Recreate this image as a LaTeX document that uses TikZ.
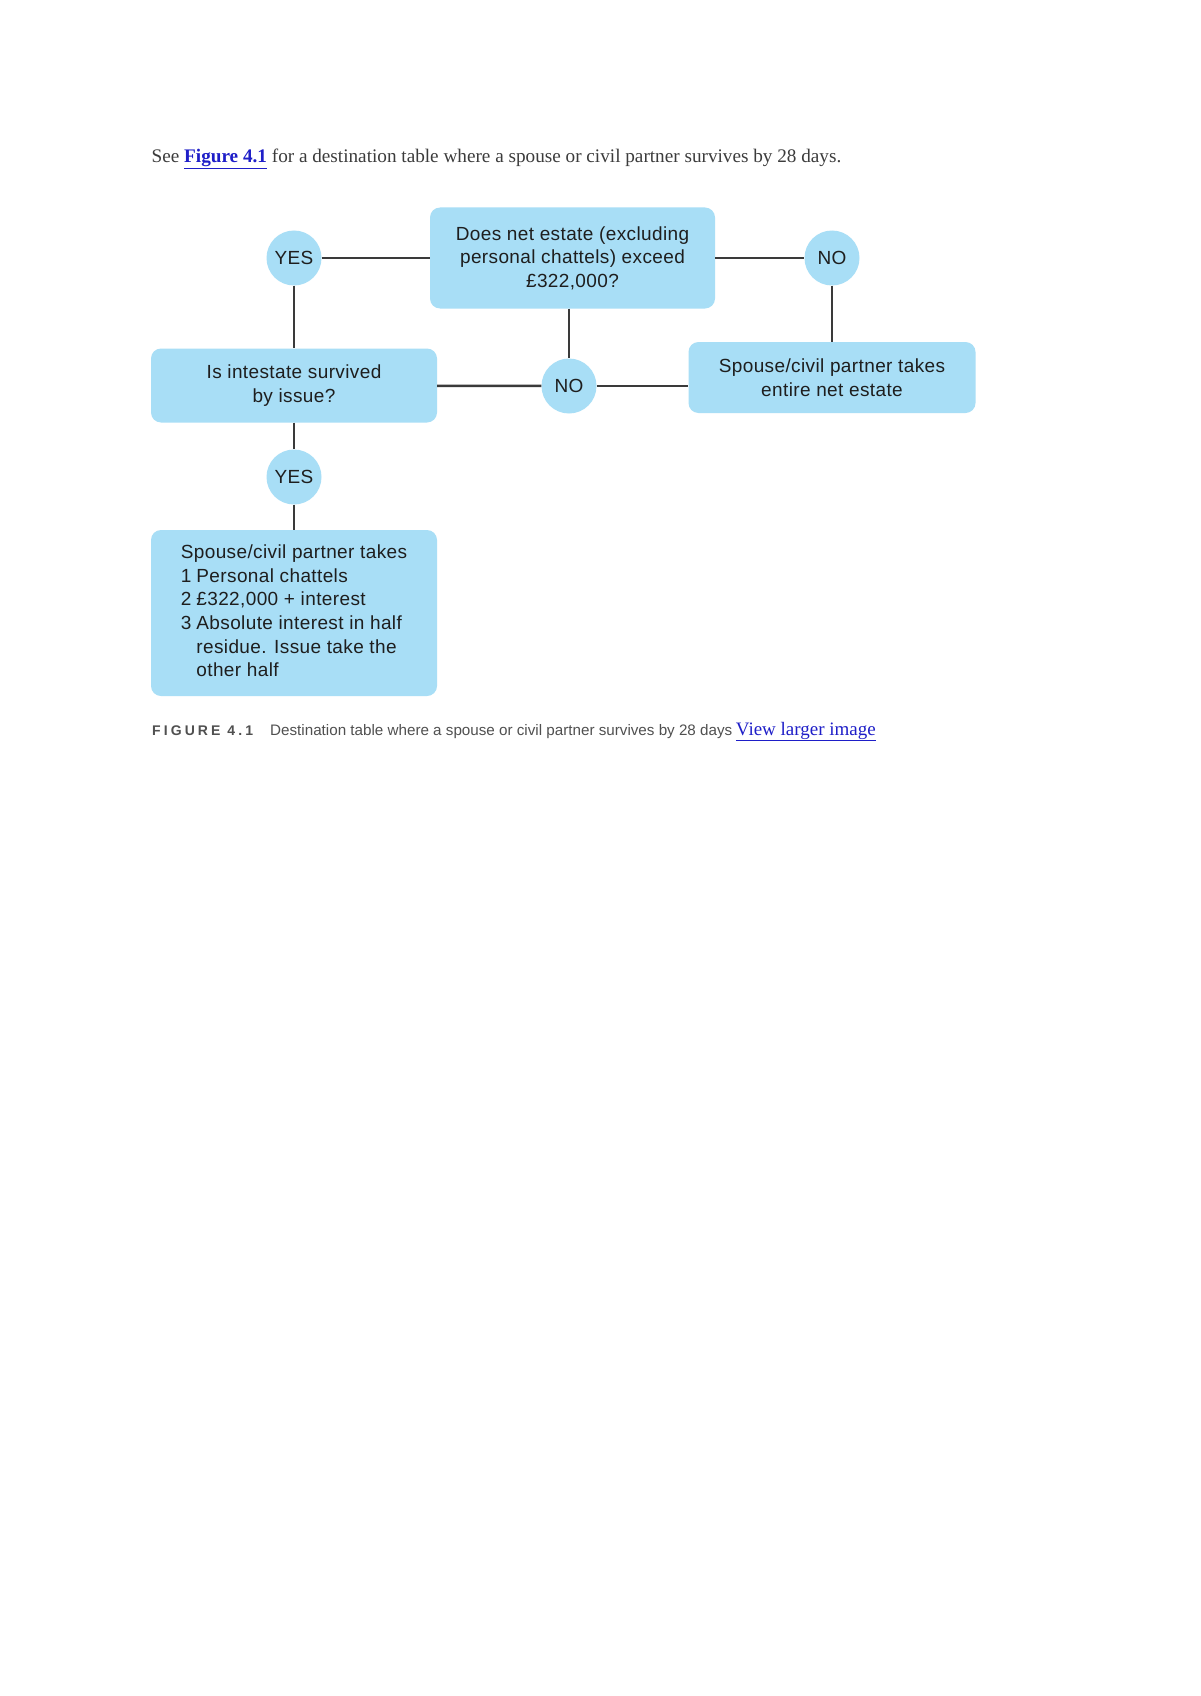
\documentclass[tikz,border=0pt]{standalone}
\usepackage{fontspec}
\setmainfont{Liberation Serif}
\newfontfamily\diagfont[LetterSpace=2]{Liberation Sans}
\newfontfamily\capfont{Liberation Sans}
\usetikzlibrary{positioning}
\definecolor{boxblue}{RGB}{168,222,246}
\definecolor{linegray}{RGB}{58,58,58}
\definecolor{txtdark}{RGB}{30,30,30}
\definecolor{introgray}{RGB}{60,60,60}
\definecolor{capgray}{RGB}{80,80,80}
\definecolor{linkblue}{RGB}{30,30,200}
\begin{document}
\begin{tikzpicture}[x=1pt,y=-1pt,
  box/.style={draw=none,fill=boxblue,rounded corners=10pt,align=center,
    font=\diagfont\fontsize{19}{23.6}\selectfont,text=txtdark,inner sep=0pt},
  ring/.style={circle,fill=boxblue,draw=none,minimum size=55pt,inner sep=0pt,
    font=\diagfont\fontsize{19}{22}\selectfont,text=txtdark},
  conn/.style={draw=linegray,line width=2.5pt}]
\useasboundingbox (0,0) rectangle (1200,1696);
\fill[white] (0,0) rectangle (1200,1696);
% intro text
\node[anchor=base west,inner sep=0pt,text=introgray,font=\fontsize{19.2}{22}\selectfont] (intro) at (151.5,163)
  {See \textcolor{linkblue}{\underline{\textbf{Figure 4.1}}} for a destination table where a spouse or civil partner survives by 28 days.};
% nodes
\node[box,minimum width=285pt,minimum height=101pt] (top) at (572.5,258)
  {Does net estate (excluding\\personal chattels) exceed\\\pounds322,000?};
\node[ring] (yes1) at (294,258) {YES};
\node[ring] (no1) at (832,258) {NO};
\node[box,minimum width=286pt,minimum height=74pt] (left) at (294,385.5)
  {Is intestate survived\\by issue?};
\node[ring] (no2) at (569,386) {NO};
\node[box,minimum width=287pt,minimum height=71pt] (right) at (832,377.5)
  {Spouse/civil partner takes\\entire net estate};
\node[ring] (yes2) at (294,477) {YES};
\node[box,minimum width=286pt,minimum height=166pt] (bottom) at (294,613)
  {\begin{tabular}{@{}l@{\hspace{5pt}}l@{}}
   \multicolumn{2}{@{}l@{}}{Spouse/civil partner takes}\\
   1 & Personal chattels\\
   2 & \pounds322,000 + interest\\
   3 & Absolute interest in half\\
     & residue. Issue take the\\
     & other half
   \end{tabular}};
% connectors
\draw[conn] (yes1) -- (top);
\draw[conn] (top) -- (no1);
\draw[conn] (yes1) -- (left);
\draw[conn] (no1) -- (right);
\draw[conn] (top.south -| no2) -- (no2);
\draw[conn] (no2) -- (left);
\draw[conn] (no2) -- (no2 -| right.west);
\draw[conn] (left) -- (yes2);
\draw[conn] (yes2) -- (bottom);
% caption
\node[anchor=base west,inner sep=0pt,text=capgray,font=\capfont\bfseries\fontsize{14}{16}\selectfont] (figlabel) at (152,735)
  {\addfontfeature{LetterSpace=22}FIGURE 4.1};
\node[anchor=base west,inner sep=0pt,text=capgray,font=\capfont\fontsize{15.2}{17}\selectfont] (captext) at (270,735)
  {Destination table where a spouse or civil partner survives by 28 days};
\node[anchor=base west,inner sep=0pt,text=linkblue,font=\fontsize{19}{21}\selectfont] (viewlink) at (captext.base east)
  {\,\underline{View larger image}};
\end{tikzpicture}
\end{document}
